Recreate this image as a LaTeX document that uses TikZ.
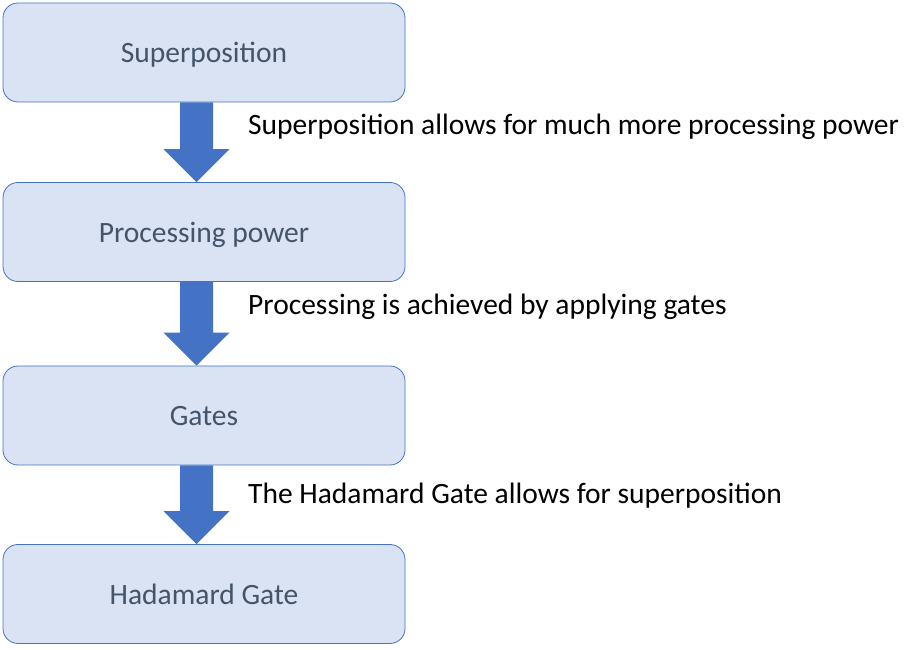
\documentclass[tikz,border=0pt]{standalone}
\usepackage{fontspec}
\setmainfont{Carlito}
\usetikzlibrary{calc}
\definecolor{boxfill}{HTML}{DAE3F3}
\definecolor{boxline}{HTML}{4472C4}
\definecolor{boxtext}{HTML}{44546A}
\definecolor{arrowfill}{HTML}{4472C4}
% block arrow from one box to the next
\newcommand\blockarrow[2]{%
  \fill[arrowfill] ($(#1.south)+(-24,0)$) -- ($(#2.north)+(-24,33)$)
    -- ($(#2.north)+(-40.5,33)$) -- ($(#2.north)+(-7.5,0)$)
    -- ($(#2.north)+(25.5,33)$) -- ($(#2.north)+(9,33)$)
    -- ($(#1.south)+(9,0)$) -- cycle;}
\begin{document}
\begin{tikzpicture}[
   x=1pt, y=1pt,
   stage/.style={draw=boxline, line width=0.8pt, fill=boxfill, rounded corners=15pt,
                 minimum width=402pt, minimum height=99pt, text=boxtext, text depth=0pt,
                 font=\fontsize{29.5}{35}\selectfont},
   note/.style={anchor=west, inner sep=0pt, font=\fontsize{29.5}{35}\selectfont}]

\useasboundingbox (0,0) rectangle (905,650);

\node[stage] (super) at (204,597.5) {Superposition};
\node[stage] (power) at (204,418)   {Processing power};
\node[stage] (gates) at (204,234.5) {Gates};
\node[stage] (hada)  at (204,56)    {Hadamard Gate};

\blockarrow{super}{power}
\blockarrow{power}{gates}
\blockarrow{gates}{hada}

\node[note] (n1) at (248,523) {Superposition allows for much more processing power};
\node[note] (n2) at (248,343) {Processing is achieved by applying gates};
\node[note] (n3) at (248,154) {The Hadamard Gate allows for superposition};

\end{tikzpicture}
\end{document}
